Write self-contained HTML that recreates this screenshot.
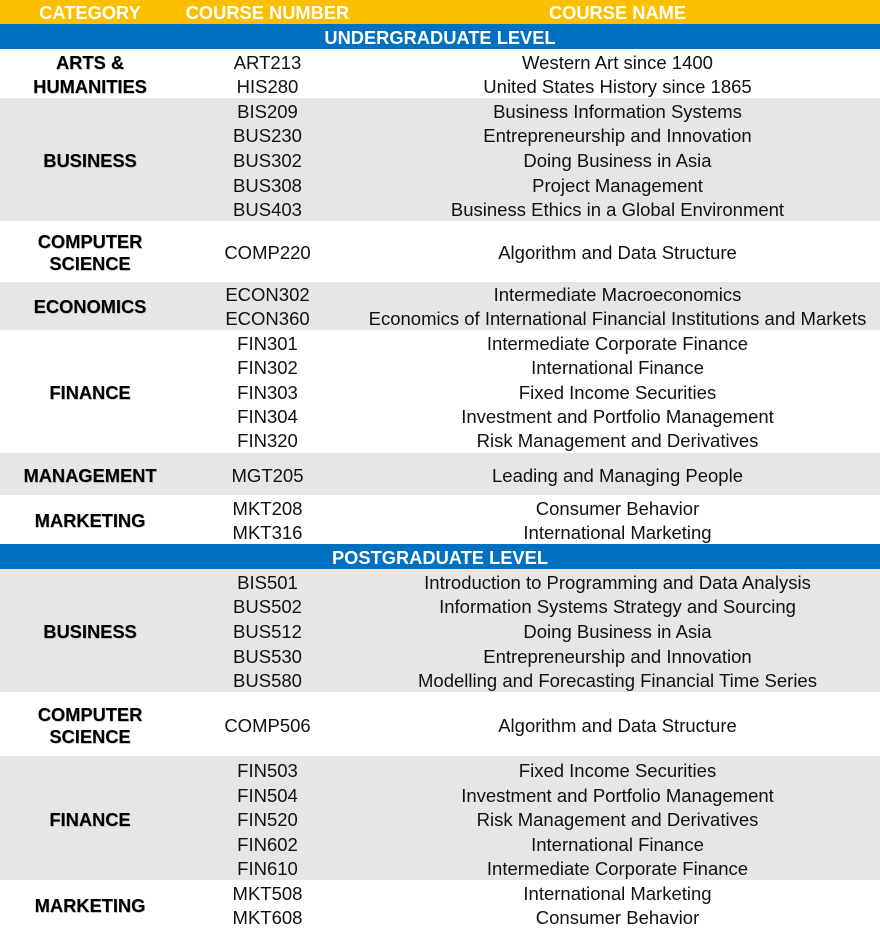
<!DOCTYPE html>
<html><head><meta charset="utf-8"><style>
body{margin:0;width:880px;height:930px;position:relative;background:#fff;font-family:"Liberation Sans",Arial,sans-serif;overflow:hidden}
.b{position:absolute;left:0;width:880px}
.t{position:absolute;height:24px;line-height:25px;text-align:center;font-size:18.5px;color:#111;white-space:nowrap}
.n{left:180px;width:175px}
.c{left:355px;width:525px}
.k{left:0;width:180px;font-weight:bold;color:#000;font-size:18.3px;text-shadow:0.5px 0.5px 0 #888}
.h{color:#fff;font-weight:bold;font-size:18.3px}
</style></head><body>
<div class="b" style="top:0;height:24px;background:#fcbf00"></div>
<div class="b" style="top:24px;height:25px;background:#0070c0"></div>
<div class="b" style="top:98px;height:123px;background:#e6e6e6"></div>
<div class="b" style="top:282px;height:48px;background:#e6e6e6"></div>
<div class="b" style="top:453px;height:42px;background:#e6e6e6"></div>
<div class="b" style="top:544px;height:25px;background:#0070c0"></div>
<div class="b" style="top:569px;height:123px;background:#e6e6e6"></div>
<div class="b" style="top:756px;height:124px;background:#e6e6e6"></div>

<div class="t h" style="top:0;left:0;width:180px">CATEGORY</div>
<div class="t h n" style="top:0">COURSE NUMBER</div>
<div class="t h c" style="top:0">COURSE NAME</div>
<div class="t h" style="top:25px;left:0;width:880px">UNDERGRADUATE LEVEL</div>
<div class="t h" style="top:545px;left:0;width:880px">POSTGRADUATE LEVEL</div>

<div class="t k" style="top:50px">ARTS &amp;</div>
<div class="t k" style="top:74px">HUMANITIES</div>
<div class="t k" style="top:148px">BUSINESS</div>
<div class="t k" style="top:229px">COMPUTER</div>
<div class="t k" style="top:251px">SCIENCE</div>
<div class="t k" style="top:294px">ECONOMICS</div>
<div class="t k" style="top:380px">FINANCE</div>
<div class="t k" style="top:463px">MANAGEMENT</div>
<div class="t k" style="top:508px">MARKETING</div>
<div class="t k" style="top:619px">BUSINESS</div>
<div class="t k" style="top:702px">COMPUTER</div>
<div class="t k" style="top:724px">SCIENCE</div>
<div class="t k" style="top:807px">FINANCE</div>
<div class="t k" style="top:893px">MARKETING</div>

<div class="t n" style="top:50px">ART213</div><div class="t c" style="top:50px">Western Art since 1400</div>
<div class="t n" style="top:74px">HIS280</div><div class="t c" style="top:74px">United States History since 1865</div>
<div class="t n" style="top:99px">BIS209</div><div class="t c" style="top:99px">Business Information Systems</div>
<div class="t n" style="top:123px">BUS230</div><div class="t c" style="top:123px">Entrepreneurship and Innovation</div>
<div class="t n" style="top:148px">BUS302</div><div class="t c" style="top:148px">Doing Business in Asia</div>
<div class="t n" style="top:173px">BUS308</div><div class="t c" style="top:173px">Project Management</div>
<div class="t n" style="top:197px">BUS403</div><div class="t c" style="top:197px">Business Ethics in a Global Environment</div>
<div class="t n" style="top:240px">COMP220</div><div class="t c" style="top:240px">Algorithm and Data Structure</div>
<div class="t n" style="top:282px">ECON302</div><div class="t c" style="top:282px">Intermediate Macroeconomics</div>
<div class="t n" style="top:306px">ECON360</div><div class="t c" style="top:306px">Economics of International Financial Institutions and Markets</div>
<div class="t n" style="top:331px">FIN301</div><div class="t c" style="top:331px">Intermediate Corporate Finance</div>
<div class="t n" style="top:355px">FIN302</div><div class="t c" style="top:355px">International Finance</div>
<div class="t n" style="top:380px">FIN303</div><div class="t c" style="top:380px">Fixed Income Securities</div>
<div class="t n" style="top:404px">FIN304</div><div class="t c" style="top:404px">Investment and Portfolio Management</div>
<div class="t n" style="top:428px">FIN320</div><div class="t c" style="top:428px">Risk Management and Derivatives</div>
<div class="t n" style="top:463px">MGT205</div><div class="t c" style="top:463px">Leading and Managing People</div>
<div class="t n" style="top:496px">MKT208</div><div class="t c" style="top:496px">Consumer Behavior</div>
<div class="t n" style="top:520px">MKT316</div><div class="t c" style="top:520px">International Marketing</div>

<div class="t n" style="top:570px">BIS501</div><div class="t c" style="top:570px">Introduction to Programming and Data Analysis</div>
<div class="t n" style="top:594px">BUS502</div><div class="t c" style="top:594px">Information Systems Strategy and Sourcing</div>
<div class="t n" style="top:619px">BUS512</div><div class="t c" style="top:619px">Doing Business in Asia</div>
<div class="t n" style="top:644px">BUS530</div><div class="t c" style="top:644px">Entrepreneurship and Innovation</div>
<div class="t n" style="top:668px">BUS580</div><div class="t c" style="top:668px">Modelling and Forecasting Financial Time Series</div>
<div class="t n" style="top:713px">COMP506</div><div class="t c" style="top:713px">Algorithm and Data Structure</div>
<div class="t n" style="top:758px">FIN503</div><div class="t c" style="top:758px">Fixed Income Securities</div>
<div class="t n" style="top:783px">FIN504</div><div class="t c" style="top:783px">Investment and Portfolio Management</div>
<div class="t n" style="top:807px">FIN520</div><div class="t c" style="top:807px">Risk Management and Derivatives</div>
<div class="t n" style="top:832px">FIN602</div><div class="t c" style="top:832px">International Finance</div>
<div class="t n" style="top:856px">FIN610</div><div class="t c" style="top:856px">Intermediate Corporate Finance</div>
<div class="t n" style="top:881px">MKT508</div><div class="t c" style="top:881px">International Marketing</div>
<div class="t n" style="top:905px">MKT608</div><div class="t c" style="top:905px">Consumer Behavior</div>
</body></html>
